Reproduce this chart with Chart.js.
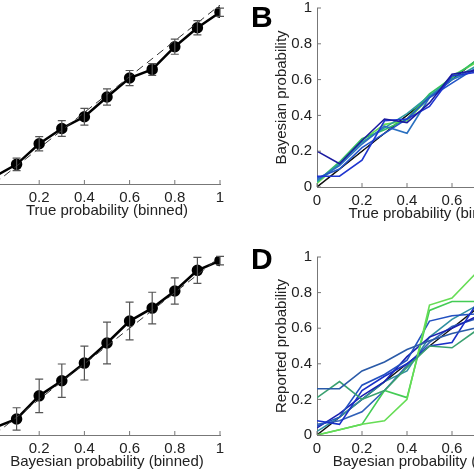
<!DOCTYPE html>
<html>
<head>
<meta charset="utf-8">
<script src="https://cdn.jsdelivr.net/npm/chart.js@4"></script>
<style>
  body { margin: 0; width: 474px; height: 474px; overflow: hidden; position: relative; background: #fff; font-family: "Liberation Sans", Arial, sans-serif; }
  canvas { position: absolute; }
  .lbl { position: absolute; font-weight: bold; font-size: 30px; color: #000; }
</style>
</head>
<body>
<canvas id="a" style="left:-60px;top:-20px" width="300" height="260"></canvas>
<canvas id="b" style="left:237px;top:-12px" width="330" height="240"></canvas>
<canvas id="c" style="left:-60px;top:230px" width="300" height="260"></canvas>
<canvas id="d" style="left:237px;top:237px" width="330" height="240"></canvas>
<div class="lbl" style="left:251px;top:0px">B</div>
<div class="lbl" style="left:251px;top:242px">D</div>
<script>
// bins shared by all panels
const bins = [0, 0.1, 0.2, 0.3, 0.4, 0.5, 0.6, 0.7, 0.8, 0.9, 1];

// panel A: mean reported vs true probability
const meanA = [0.04, 0.11, 0.225, 0.31, 0.376, 0.486, 0.592, 0.64, 0.767, 0.873, 0.96];
const errA  = [0, 0.035, 0.04, 0.044, 0.047, 0.045, 0.042, 0.033, 0.042, 0.04, 0.023];

// panel C: mean reported vs bayesian probability
const meanC = [0.04, 0.09, 0.22, 0.305, 0.404, 0.517, 0.64, 0.713, 0.809, 0.925, 0.98];
const errC  = [0, 0.063, 0.094, 0.094, 0.095, 0.117, 0.106, 0.089, 0.074, 0.073, 0.024];

// panel B: individual subjects
const linesB = [
  [0.20, 0.13, 0.26, 0.38, 0.36, 0.47, 0.63, 0.65, 0.75],
  [0.06, 0.06, 0.15, 0.37, 0.38, 0.45, 0.62, 0.64, 0.74],
  [0.05, 0.10, 0.22, 0.30, 0.38, 0.50, 0.58, 0.66, 0.76],
  [0.04, 0.12, 0.24, 0.34, 0.30, 0.50, 0.60, 0.65, 0.77],
  [0.03, 0.13, 0.25, 0.33, 0.41, 0.51, 0.60, 0.67, 0.76],
  [0.03, 0.14, 0.27, 0.32, 0.38, 0.52, 0.61, 0.70, 0.78],
  [0.02, 0.13, 0.26, 0.35, 0.37, 0.50, 0.62, 0.69, 0.79]
];
const colorsB = ['#1a1aa0', '#1f35d0', '#2255c8', '#2a70c0', '#2a9aa0', '#35c060', '#66dd55'];

// panel D: individual subjects
const linesD = [
  [0.26, 0.26, 0.36, 0.41, 0.48, 0.53, 0.57, 0.60, 0.66],
  [0.21, 0.30, 0.20, 0.25, 0.38, 0.50, 0.49, 0.58, 0.66],
  [0.00, 0.03, 0.06, 0.08, 0.20, 0.73, 0.77, 0.90, 0.92],
  [0.00, 0.03, 0.06, 0.25, 0.21, 0.70, 0.75, 0.75, 0.80],
  [0.08, 0.06, 0.25, 0.33, 0.40, 0.50, 0.52, 0.72, 0.78],
  [0.05, 0.10, 0.28, 0.34, 0.42, 0.64, 0.67, 0.68, 0.76],
  [0.04, 0.12, 0.22, 0.30, 0.44, 0.55, 0.60, 0.66, 0.74],
  [0.06, 0.08, 0.13, 0.25, 0.39, 0.52, 0.61, 0.65, 0.75],
  [0.02, 0.10, 0.20, 0.30, 0.36, 0.55, 0.65, 0.72, 0.80]
];
const colorsD = ['#2a5aa8', '#3aa070', '#66dd55', '#44cc55', '#1a30c8', '#2250c0', '#1a20b0', '#3060b8', '#3090a0'];

const FONT = { family: '"Liberation Sans", Arial, sans-serif', size: 15 };

// MATLAB-style inward tick marks
const inwardTicks = {
  id: 'inwardTicks',
  afterDraw(chart) {
    const { ctx, chartArea } = chart;
    ctx.save();
    ctx.strokeStyle = '#777';
    ctx.lineWidth = 1;
    chart.scales.x.ticks.forEach(t => {
      const px = chart.scales.x.getPixelForValue(t.value);
      ctx.beginPath(); ctx.moveTo(px, chartArea.bottom); ctx.lineTo(px, chartArea.bottom - 4); ctx.stroke();
    });
    if (chart.scales.y.options.ticks.display) {
      chart.scales.y.ticks.forEach(t => {
        const py = chart.scales.y.getPixelForValue(t.value);
        ctx.beginPath(); ctx.moveTo(chartArea.left, py); ctx.lineTo(chartArea.left + 4, py); ctx.stroke();
      });
    }
    ctx.restore();
  }
};

// error bars drawn through the scales
const errorBars = {
  id: 'errorBars',
  afterDatasetsDraw(chart, args, opts) {
    if (!opts.err) return;
    const { ctx } = chart;
    const xs = chart.scales.x, ys = chart.scales.y;
    ctx.save();
    ctx.strokeStyle = '#555';
    ctx.lineWidth = 1.2;
    bins.forEach((b, i) => {
      if (!opts.err[i]) return;
      const px = xs.getPixelForValue(b);
      const top = ys.getPixelForValue(opts.mean[i] + opts.err[i]);
      const bot = ys.getPixelForValue(opts.mean[i] - opts.err[i]);
      ctx.beginPath();
      ctx.moveTo(px, top); ctx.lineTo(px, bot);
      ctx.moveTo(px - 4, top); ctx.lineTo(px + 4, top);
      ctx.moveTo(px - 4, bot); ctx.lineTo(px + 4, bot);
      ctx.stroke();
    });
    ctx.restore();
  }
};

function pts(vals) {
  return vals.map((v, i) => ({ x: bins[i], y: v }));
}

function identity(color) {
  return { data: [{ x: 0, y: 0 }, { x: 1, y: 1 }], borderColor: color, borderWidth: 1,
           borderDash: [8, 5], pointRadius: 0 };
}

function makeChart(id, cfg) {
  new Chart(document.getElementById(id), {
    type: 'line',
    data: { datasets: cfg.datasets },
    options: {
      responsive: false,
      animation: false,
      layout: { padding: cfg.padding },
      plugins: {
        legend: { display: false },
        tooltip: { enabled: false },
        errorBars: cfg.errorBars || {}
      },
      scales: {
        x: {
          type: 'linear', min: 0, max: 1,
          ticks: { stepSize: 0.2, color: '#222', font: FONT, padding: 5,
                   callback: v => (cfg.hideZero && v === 0) ? '' : String(+v.toFixed(1)) },
          grid: { display: false, drawTicks: false },
          border: { color: '#777' },
          title: { display: true, text: cfg.xTitle, color: '#222', font: FONT, padding: 0 },
          afterFit: s => { s.height = cfg.xH; }
        },
        y: {
          min: 0, max: 1,
          ticks: { stepSize: 0.2, color: '#222', font: FONT, display: !!cfg.yTitle, padding: 5,
                   callback: v => String(+v.toFixed(1)) },
          grid: { display: false, drawTicks: false },
          border: { color: '#777', display: !!cfg.yTitle },
          title: { display: !!cfg.yTitle, text: cfg.yTitle || '', color: '#222', font: FONT, padding: 0 },
          afterFit: s => { s.width = cfg.yW; }
        }
      }
    },
    plugins: [inwardTicks, errorBars]
  });
}

function meanSet(vals) {
  return { data: pts(vals), borderColor: '#000', backgroundColor: '#000', borderWidth: 2.5,
           pointRadius: 4.5, pointBackgroundColor: '#000' };
}

makeChart('a', {
  datasets: [identity('#333'), meanSet(meanA)],
  errorBars: { mean: meanA, err: errA },
  padding: { top: 25, right: 20, left: 0, bottom: 20 },
  xTitle: 'True probability (binned)', xH: 36, yW: 54, hideZero: true
});

makeChart('c', {
  datasets: [identity('#333'), meanSet(meanC)],
  errorBars: { mean: meanC, err: errC },
  padding: { top: 27, right: 20, left: 0, bottom: 19 },
  xTitle: 'Bayesian probability (binned)', xH: 36, yW: 54, hideZero: true
});

makeChart('b', {
  datasets: linesB.map((l, i) => ({ data: pts(l), borderColor: colorsB[i], borderWidth: 1.6, pointRadius: 0 }))
    .concat([{ data: pts(bins.map(b => b)), borderColor: '#111', borderWidth: 1.4, pointRadius: 0 }, identity('#000')]),
  padding: { top: 20, right: 25, left: 36, bottom: 5 },
  xTitle: 'True probability (binned)', yTitle: 'Bayesian probability', xH: 36, yW: 44
});

makeChart('d', {
  datasets: linesD.map((l, i) => ({ data: pts(l), borderColor: colorsD[i], borderWidth: 1.6, pointRadius: 0 }))
    .concat([{ data: pts(bins.map(b => b)), borderColor: '#111', borderWidth: 1.4, pointRadius: 0 }]),
  padding: { top: 20, right: 25, left: 36, bottom: 6 },
  xTitle: 'Bayesian probability (binned)', yTitle: 'Reported probability', xH: 36, yW: 44
});
</script>
</body>
</html>
